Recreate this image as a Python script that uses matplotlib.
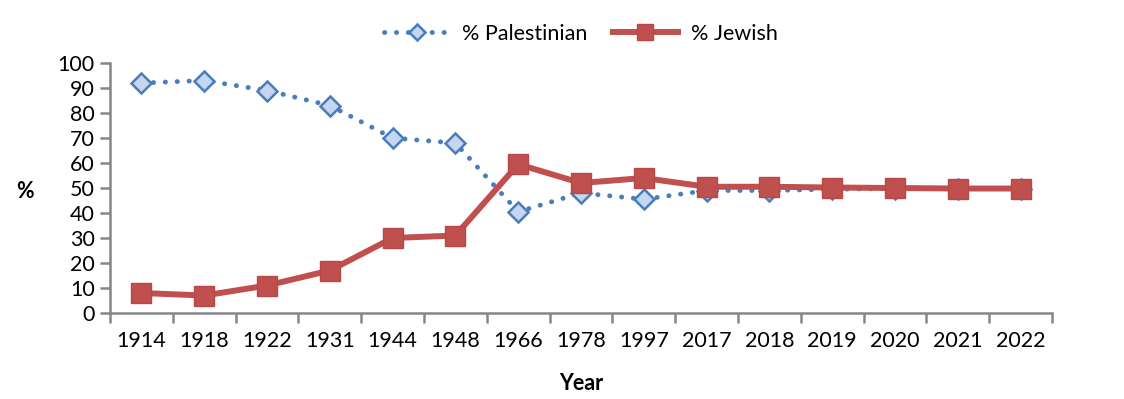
import matplotlib.pyplot as plt
import numpy as np

years = ['1914', '1918', '1922', '1931', '1944', '1948', '1966', '1978',
         '1997', '2017', '2018', '2019', '2020', '2021', '2022']
pct_palestinian = [92, 93, 89, 83, 70, 68, 40.5, 48, 45.5, 49, 49, 49.5, 49.8, 49.8, 49.8]
pct_jewish = [8, 7, 11, 17, 30, 31, 59.5, 52, 54, 50.5, 50.5, 50.2, 50, 49.8, 49.8]

plt.rcParams['font.family'] = ['Lato', 'DejaVu Sans']
fs = 15.5

fig = plt.figure(figsize=(11.24, 3.99), dpi=100)
ax = fig.add_axes([0.0979, 0.2155, 0.838, 0.6266])

x = np.arange(len(years))
blue = '#4a7ebb'
red = '#c0504d'

ax.plot(x, pct_palestinian, color=blue, lw=3.5, linestyle=(0, (0.05, 2.4)),
        dash_capstyle='round', solid_capstyle='round',
        marker='D', ms=10, mfc='#c6d6f0', mec=blue, mew=1.8,
        label='% Palestinian', zorder=3)
ax.plot(x, pct_jewish, color=red, lw=4.3, marker='s', ms=14,
        mfc=red, mec='#b9474a', mew=1, label='% Jewish', zorder=4)

ax.set_xlim(-0.5, len(years) - 0.5)
ax.set_ylim(0, 100)
ax.set_yticks(range(0, 101, 10))
ax.set_xticks(x)
ax.set_xticklabels(years)
ax.set_xticks(np.arange(-0.5, len(years), 1), minor=True)
ax.tick_params(axis='x', which='major', length=0, pad=13, labelsize=fs)
ax.tick_params(axis='x', which='minor', length=7, width=1.8, color='#868686')
ax.tick_params(axis='y', length=7, width=1.8, color='#868686', labelsize=fs, pad=4)

for s in ['top', 'right']:
    ax.spines[s].set_visible(False)
for s in ['left', 'bottom']:
    ax.spines[s].set_color('#868686')
    ax.spines[s].set_linewidth(1.8)

ax.set_xlabel('Year', fontsize=fs, fontweight='bold', labelpad=16)
fig.text(25 / 1124, 1 - 191 / 399, '%', fontsize=fs, fontweight='bold',
         ha='center', va='center')

leg = ax.legend(loc='lower center', bbox_to_anchor=(0.5, 1.0), ncol=2, frameon=False,
                fontsize=fs, handlelength=3.0, columnspacing=1.2, handletextpad=0.6,
                markerscale=0.85)

fig.savefig('out.png', dpi=100)
